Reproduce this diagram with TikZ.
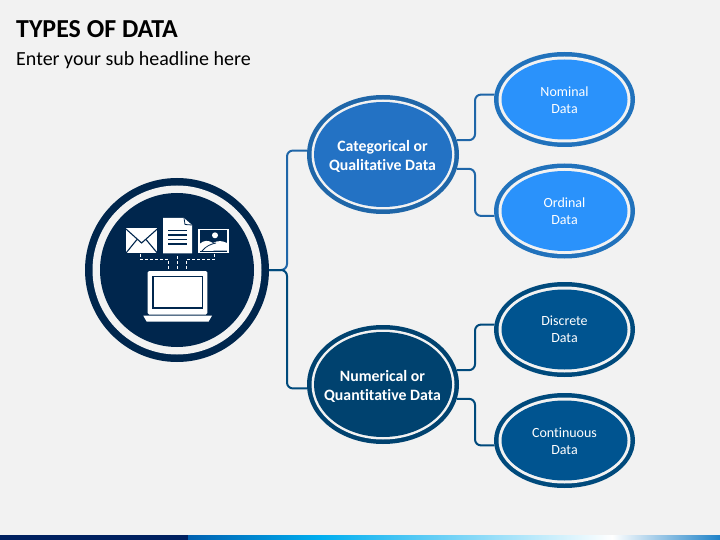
\documentclass[tikz,border=0pt]{standalone}
\usepackage{fontspec}
\setmainfont[Ligatures=NoCommon]{Carlito}
\usetikzlibrary{shapes.geometric,calc}
\definecolor{bgc}{HTML}{F2F2F2}
\definecolor{hubc}{HTML}{00264D}
\definecolor{barc}{HTML}{002060}
\definecolor{catring}{HTML}{1F66A8}
\definecolor{catfill}{HTML}{2372C4}
\definecolor{nomring}{HTML}{2172BC}
\definecolor{nomfill}{HTML}{2A92FB}
\definecolor{numring}{HTML}{00426F}
\definecolor{disring}{HTML}{004A7C}
\definecolor{disfill}{HTML}{005490}
\definecolor{barA}{HTML}{0060B0}
\definecolor{barB}{HTML}{00AEEF}
\definecolor{barD}{HTML}{1E82C8}
\tikzset{
  oval/.style={ellipse,inner sep=0pt,outer sep=0pt},
  big/.style={oval,minimum width=152pt,minimum height=119pt},
  bigtxt/.style={inner sep=0pt,align=center,text=white,font=\fontsize{15.8}{19}\selectfont\bfseries},
  small/.style={oval,minimum width=141pt,minimum height=95pt},
  smalltxt/.style={inner sep=0pt,align=center,text=white,font=\fontsize{14}{17}\selectfont},
  conn/.style={line width=2pt,rounded corners=6pt},
  gapfill/.style={fill=bgc},
  wht/.style={fill=white,draw=none},
  navyline/.style={draw=hubc,line width=1.1pt},
  dashline/.style={draw=white,line width=1.5pt,dash pattern=on 3pt off 2pt},
}
\begin{document}
\begin{tikzpicture}[x=1pt,y=-1pt]
\useasboundingbox (0,0) rectangle (720,540);
\fill[bgc] (0,0) rectangle (720,540);
% bottom bar
\fill[barc] (0,535) rectangle (188,540);
\fill[left color=barA,right color=barB] (188,535) rectangle (320,540);
\fill[left color=barB,right color=white] (320,535) rectangle (612,540);
\fill[left color=white,right color=barD] (612,535) rectangle (720,540);
% title
\node[anchor=west,inner sep=0pt,font=\fontsize{25.9}{30}\selectfont\bfseries] (title) at (16,29) {TYPES OF DATA};
\node[anchor=west,inner sep=0pt,font=\fontsize{20}{24}\selectfont] (sub) at (16,60.5) {Enter your sub headline here};
% hub
\node[circle,fill=hubc,minimum size=184pt,inner sep=0pt] (hub) at (177,270) {};
\fill[bgc] (hub.center) circle (84.5);
\fill[hubc] (hub.center) circle (77);
% ovals
\node[big,fill=catring] (cat) at (383,154.5) {};
\fill[gapfill] (cat.center) ellipse (71.5 and 55);
\fill[catfill] (cat.center) ellipse (69 and 52.5);
\node[bigtxt] (catT) at (382.5,156.5) {Categorical or\\Qualitative Data};
\node[big,fill=numring] (num) at (383,384.5) {};
\fill[gapfill] (num.center) ellipse (71.5 and 55);
\fill[numring] (num.center) ellipse (69 and 52.5);
\node[bigtxt] (numT) at (382.5,386.5) {Numerical or\\Quantitative Data};
\node[small,fill=nomring] (nom) at (564.5,99.5) {};
\fill[gapfill] (nom.center) ellipse (66 and 43);
\fill[nomfill] (nom.center) ellipse (63 and 40);
\node[smalltxt] (nomT) at (564.5,100.2) {Nominal\\Data};
\node[small,fill=nomring] (ord) at (564.5,211) {};
\fill[gapfill] (ord.center) ellipse (66 and 43);
\fill[nomfill] (ord.center) ellipse (63 and 40);
\node[smalltxt] (ordT) at (564.5,211) {Ordinal\\Data};
\node[small,fill=disring] (dis) at (564.5,329.5) {};
\fill[gapfill] (dis.center) ellipse (66 and 43);
\fill[disfill] (dis.center) ellipse (63 and 40);
\node[smalltxt] (disT) at (564.5,329) {Discrete\\Data};
\node[small,fill=disring] (con) at (564.5,440.5) {};
\fill[gapfill] (con.center) ellipse (66 and 43);
\fill[disfill] (con.center) ellipse (63 and 40);
\node[smalltxt] (conT) at (564.5,441) {Continuous\\Data};
% connectors
\coordinate (busH) at (287,0);
\coordinate (busT) at (475,0);
\draw[conn,catring] (hub.east) -- (hub.east -| busH) -- (cat.177 -| busH) -- (cat.177);
\draw[conn,disring] (hub.east) -- (hub.east -| busH) -- (num.183 -| busH) -- (num.183);
\draw[conn,catring] (cat.11) -- (cat.11 -| busT) -- (nom.176 -| busT) -- (nom.176);
\draw[conn,catring] (cat.-11) -- (cat.-11 -| busT) -- (ord.184 -| busT) -- (ord.184);
\draw[conn,disring] (num.11) -- (num.11 -| busT) -- (dis.176 -| busT) -- (dis.176);
\draw[conn,disring] (num.-11) -- (num.-11 -| busT) -- (con.184 -| busT) -- (con.184);
% envelope
\fill[wht] (126,228.3) rectangle (157.3,253.3);
\draw[navyline] (126,229) -- (141.6,243) -- (157.3,229);
\draw[navyline] (126,253) -- (137,239.5);
\draw[navyline] (157.3,253) -- (146,239.5);
% document
\fill[wht] (163,218) -- (184,218) -- (192,225) -- (192,253.3) -- (163,253.3) -- cycle;
\draw[hubc,line width=.8pt] (184,218) -- (185,224.5) -- (192,225);
\foreach \yy in {230.7,235,239.3,244} \draw[navyline] (168,\yy) -- (187.3,\yy);
% picture
\fill[wht] (197.5,228.7) rectangle (229,253.3);
\fill[hubc] (199.5,230.5) rectangle (227,251.5);
\fill[wht] (215,235.3) circle (3);
\fill[wht] (199.5,251) -- (199.5,244) .. controls (204,240) and (208,240) .. (213,243) .. controls (218,240) and (223,241) .. (227,243) -- (227,250.5) -- cycle;
\draw[hubc,line width=.8pt] (202,251) .. controls (206,246) and (211,244) .. (216,243);
% dashes
\draw[dashline] (140.7,253.5) -- (140.7,259.3) -- (168.3,259.3) -- (168.3,269.5);
\draw[dashline] (177.3,256) -- (177.3,269.5);
\draw[dashline] (214.3,253.5) -- (214.3,259.3) -- (186.7,259.3) -- (186.7,269.5);
% laptop
\fill[wht,rounded corners=1.5pt] (147.7,271) rectangle (207.3,314.5);
\draw[hubc,line width=1.4pt] (152.8,276.3) rectangle (202.2,308);
\fill[wht] (143.3,315.7) -- (212,315.7) -- (208.5,321.7) -- (146.7,321.7) -- cycle;
\end{tikzpicture}
\end{document}
